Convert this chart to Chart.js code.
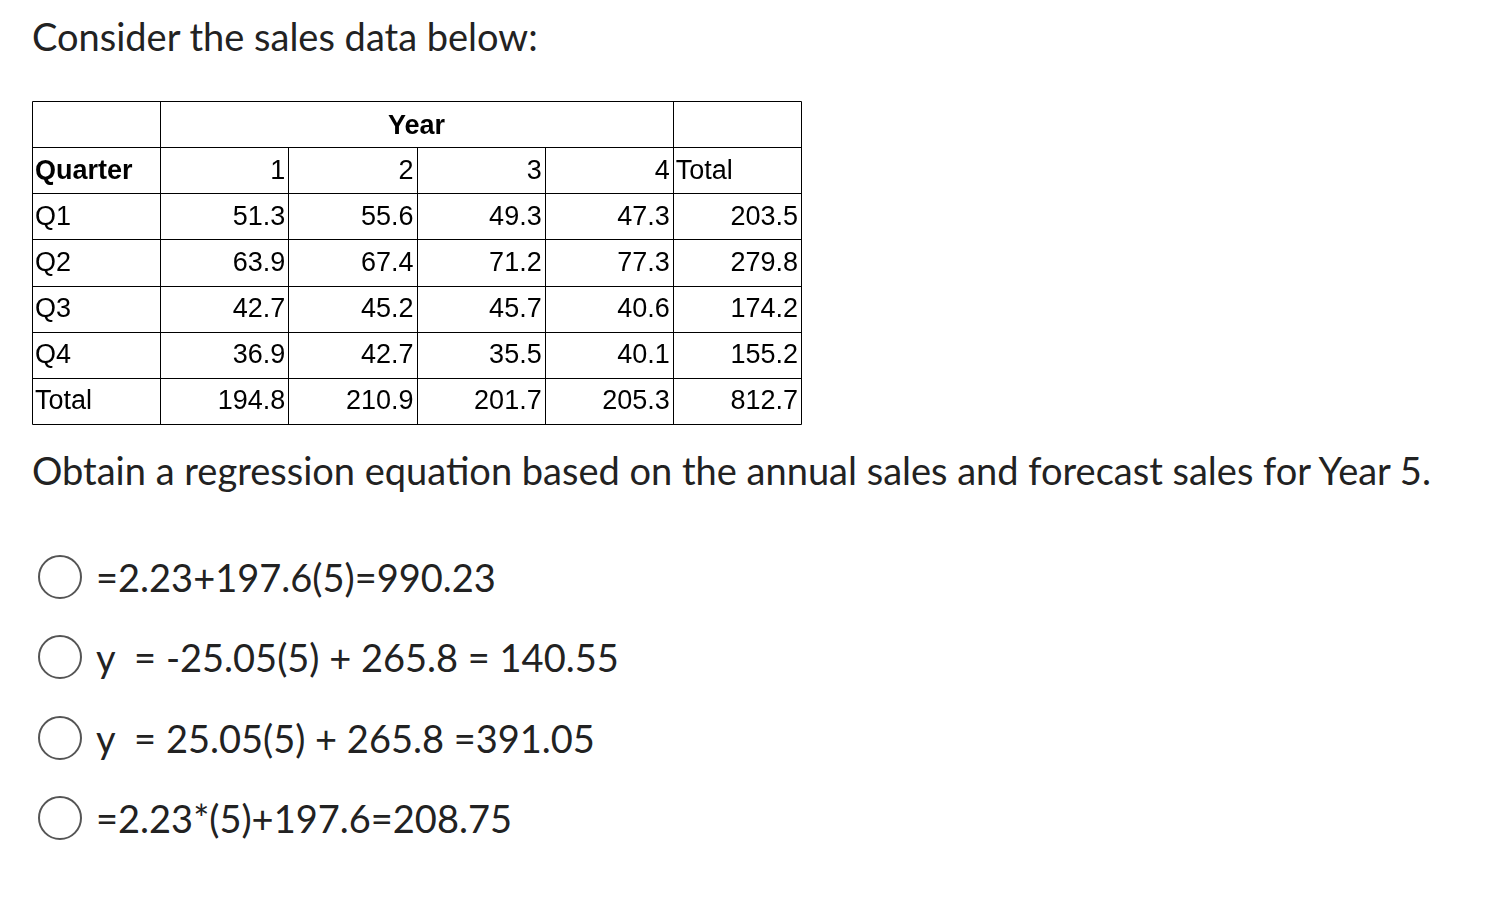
<!DOCTYPE html>
<html><head><meta charset="utf-8">
<script src="https://cdn.jsdelivr.net/npm/chart.js@4"></script>
<style>
body{margin:0;background:#fff;font-family:Lato,sans-serif;color:#222;width:1498px;height:906px;position:relative;overflow:hidden}
.t{position:absolute;left:32px;font-size:38px;white-space:nowrap}
#wrap{position:absolute;left:31px;top:100px;width:771px;height:325px}
.opt{position:absolute;left:38px;font-size:38px;white-space:nowrap;display:flex;align-items:center}
.opt span.r{display:inline-block;width:44px;height:44px;border:2px solid #555;border-radius:50%;box-sizing:border-box;margin-right:14px}
</style></head><body>
<div class="t" style="top:13px">Consider the sales data below:</div>
<div id="wrap"><canvas id="c" width="771" height="325"></canvas></div>
<div class="t" style="top:447px">Obtain a regression equation based on the annual sales and forecast sales for Year 5.</div>
<div class="opt" style="top:554px"><span class="r"></span>=2.23+197.6(5)=990.23</div>
<div class="opt" style="top:634px"><span class="r"></span>y &nbsp;= -25.05(5) + 265.8 = 140.55</div>
<div class="opt" style="top:715px"><span class="r"></span>y &nbsp;= 25.05(5) + 265.8 =391.05</div>
<div class="opt" style="top:795px"><span class="r"></span>=2.23*(5)+197.6=208.75</div>
<script>
const headerRow = ["Quarter","1","2","3","4","Total"];
const quarters = ["Q1","Q2","Q3","Q4","Total"];
const year1 = ["51.3","63.9","42.7","36.9","194.8"];
const year2 = ["55.6","67.4","45.2","42.7","210.9"];
const year3 = ["49.3","71.2","45.7","35.5","201.7"];
const year4 = ["47.3","77.3","40.6","40.1","205.3"];
const totals = ["203.5","279.8","174.2","155.2","812.7"];
const nCols = 6, nRows = 7;

const tablePlugin = {
  id:'table',
  afterDraw(chart){
    const ctx = chart.ctx, xs = chart.scales.x, ys = chart.scales.y;
    const X = i => xs.getPixelForValue(i), Y = j => ys.getPixelForValue(j);
    ctx.save();
    ctx.strokeStyle = '#000'; ctx.lineWidth = 1;
    const line=(x1,y1,x2,y2)=>{ctx.beginPath();ctx.moveTo(Math.round(x1)+0.5,Math.round(y1)+0.5);ctx.lineTo(Math.round(x2)+0.5,Math.round(y2)+0.5);ctx.stroke();};
    for(let j=0;j<=nRows;j++) line(X(0),Y(j),X(nCols),Y(j));
    for(let i=0;i<=nCols;i++){
      const start = (i>=2 && i<=4) ? 1 : 0;
      line(X(i),Y(start),X(i),Y(nRows));
    }
    ctx.fillStyle='#000'; ctx.textBaseline='middle';
    const cell=(txt,i,j,align,bold)=>{
      ctx.font=(bold?'bold ':'')+'27px "Liberation Sans", Arial, sans-serif';
      const yc=(Y(j)+Y(j+1))/2+1;
      if(align==='left'){ctx.textAlign='left';ctx.fillText(txt,X(i)+3,yc);}
      else {ctx.textAlign='right';ctx.fillText(txt,X(i+1)-3,yc);}
    };
    ctx.font='bold 27px "Liberation Sans", Arial, sans-serif';
    ctx.textAlign='center';
    ctx.fillText('Year',(X(1)+X(5))/2,(Y(0)+Y(1))/2+2);
    cell(headerRow[0],0,1,'left',true);
    for(let i=1;i<=4;i++) cell(headerRow[i],i,1,'right');
    cell(headerRow[5],5,1,'left');
    const cols=[year1,year2,year3,year4,totals];
    quarters.forEach((q,r)=>{
      cell(q,0,r+2,'left');
      cols.forEach((c,k)=>cell(c[r],k+1,r+2,'right'));
    });
    ctx.restore();
  }
};
new Chart(document.getElementById('c'),{
  type:'scatter',
  data:{datasets:[{data:[]}]},
  options:{responsive:false,animation:false,
    layout:{padding:{left:1,right:1,top:1,bottom:1}},
    plugins:{legend:{display:false},tooltip:{enabled:false}},
    scales:{
      x:{type:'linear',min:0,max:nCols,display:false},
      y:{type:'linear',min:0,max:nRows,reverse:true,display:false}
    }},
  plugins:[tablePlugin]
});
</script>
</body></html>
